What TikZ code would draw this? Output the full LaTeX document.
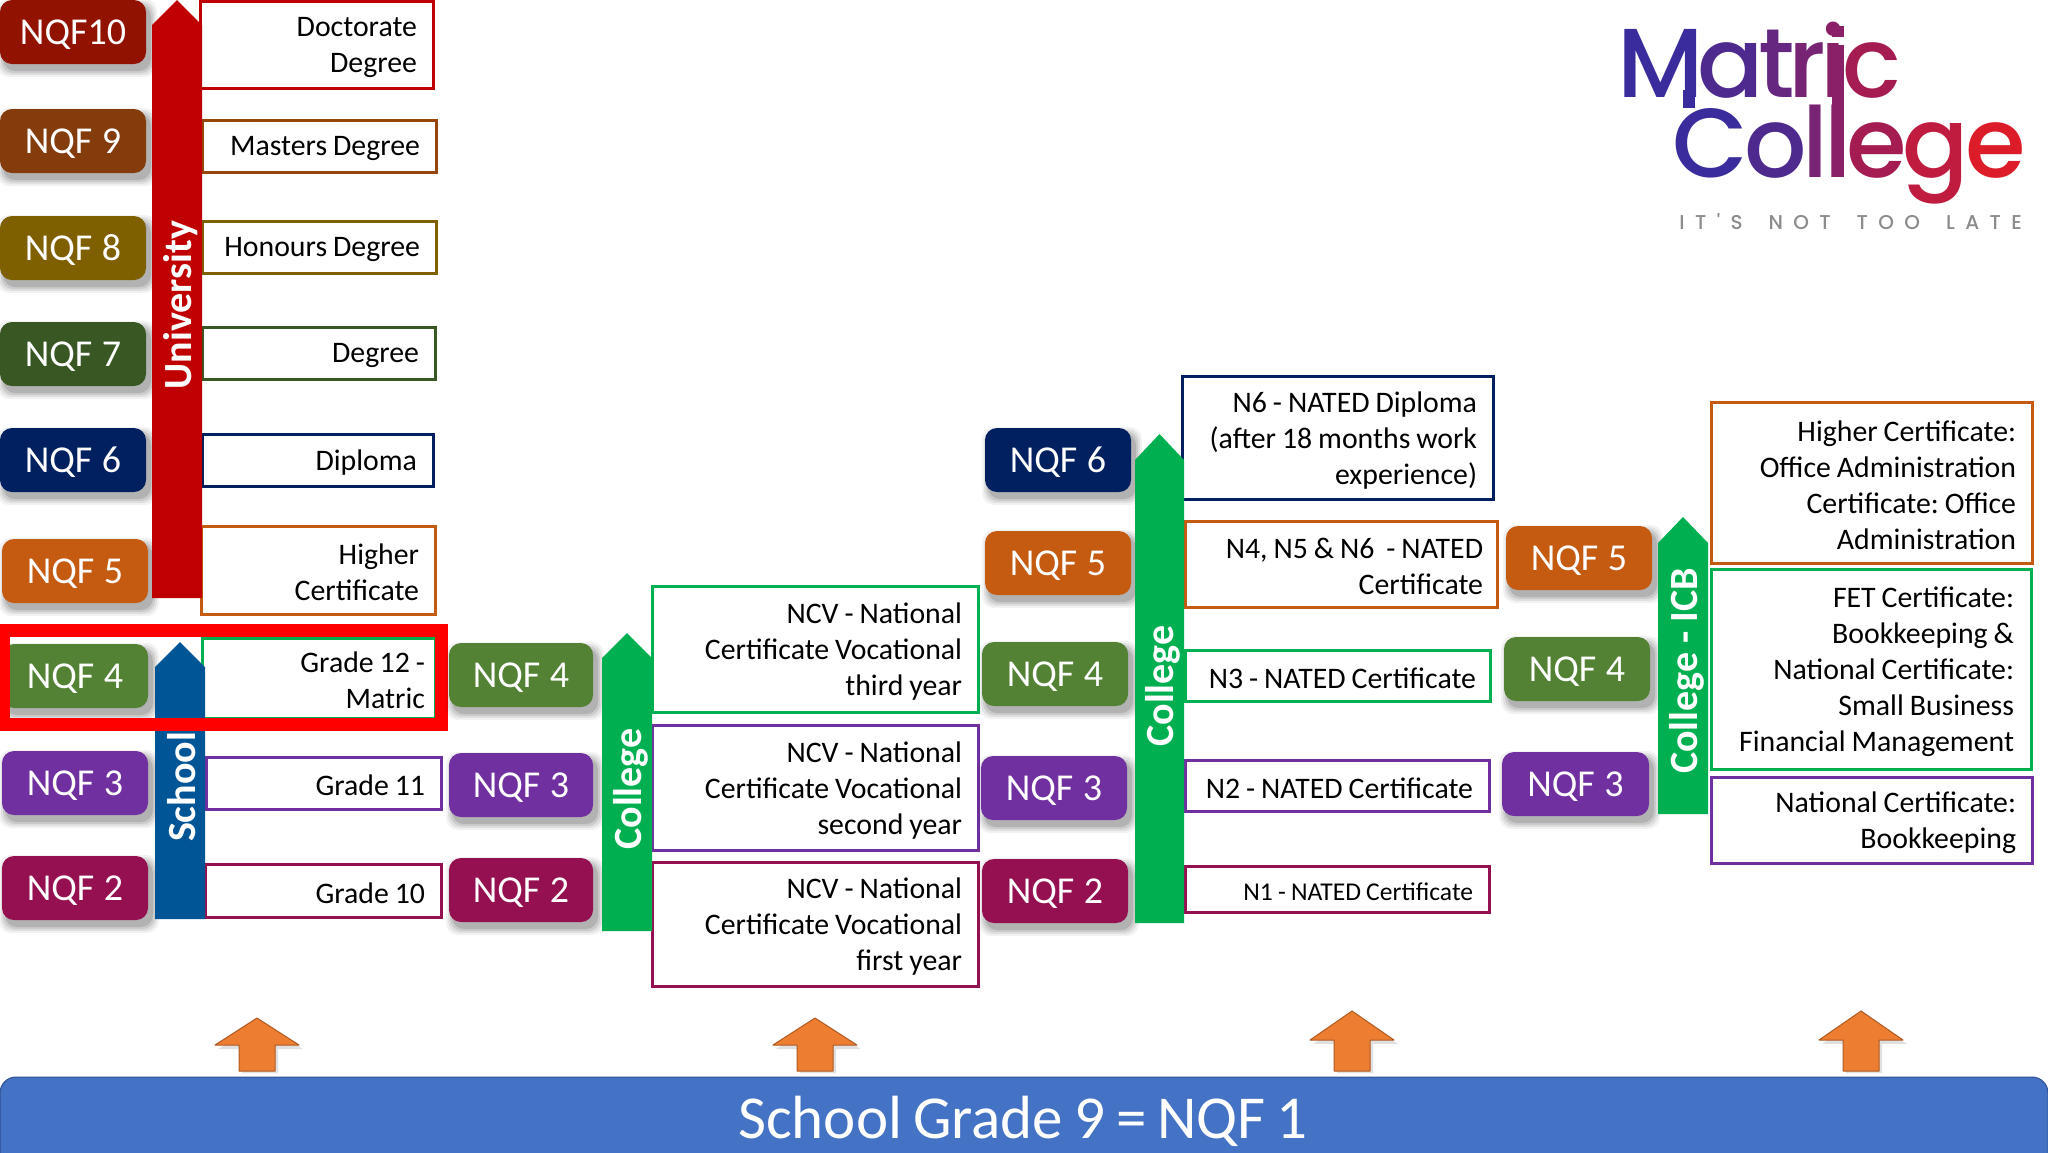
\documentclass[tikz,border=0pt]{standalone}
\usepackage{fontspec}
\setmainfont{Carlito}
\newfontfamily\logofont{Poppins Medium}
\newfontfamily\tagfont{Poppins Medium}[LetterSpace=52,WordSpace=1.66]
\newcommand{\tightwords}{\frenchspacing\spaceskip=.2em\relax}
\newcommand{\widewords}{\spaceskip=.25em\relax}
\newcommand{\barwords}{\spaceskip=.18em\relax}
\definecolor{cTen}{HTML}{921200}
\definecolor{cNine}{HTML}{843C0C}
\definecolor{cEight}{HTML}{7F6000}
\definecolor{cSeven}{HTML}{385723}
\definecolor{cSix}{HTML}{002060}
\definecolor{cFive}{HTML}{C55A11}
\definecolor{cFour}{HTML}{548235}
\definecolor{cThree}{HTML}{7030A0}
\definecolor{cTwo}{HTML}{951050}
\definecolor{uniRed}{HTML}{C00000}
\definecolor{schoolBlue}{HTML}{005597}
\definecolor{collGreen}{HTML}{00B050}
\definecolor{barBlue}{HTML}{4472C4}
\definecolor{barEdge}{HTML}{2F528F}
\definecolor{upOrange}{HTML}{ED7D31}
\definecolor{upEdge}{HTML}{AE5A21}
\definecolor{lgA}{HTML}{3A2C9C}
\definecolor{lgB}{HTML}{4F2A8E}
\definecolor{lgC}{HTML}{662780}
\definecolor{lgD}{HTML}{782474}
\definecolor{lgE}{HTML}{8A2068}
\definecolor{lgF}{HTML}{A41C52}
\definecolor{lgG}{HTML}{C01C40}
\definecolor{lgH}{HTML}{DC1C28}
\tikzset{
  nqfbox/.style={rounded corners=6pt,inner sep=0pt},
  nqftext/.style={inner sep=0pt,text=white,yshift=-1.2pt,font=\fontsize{19}{22}\selectfont},
  infobox/.style={fill=white,line width=1.5pt,inner sep=0pt},
  infotext/.style={inner sep=0pt,align=right,yshift=-1.3pt,font=\fontsize{14.9}{18}\selectfont},
  vlabel/.style={rotate=90,text=white,inner sep=0pt,
    font=\bfseries\fontsize{20}{22}\selectfont},
  upshape/.style={fill=upOrange,draw=upEdge,line width=0.5pt,line join=round},
}
% #1 name, #2 x1, #3 x2, #4 cy, #5 colour, #6 text
\newcommand{\nqf}[6]{%
  \foreach \s/\o in {7/0.05,5/0.07,3/0.09,1/0.12}{%
    \fill[black,opacity=\o,rounded corners=6pt]
      ({#2+4-\s},{#4-32+6-\s}) rectangle ({#3+4+\s},{#4+32+6+\s});}
  \node[nqfbox,fill=#5,minimum width={(#3-#2)*0.5pt},minimum height=32pt]
    (#1) at ({(#2+#3)/2},#4) {};
  \node[nqftext] (#1-t) at (#1.center) {\widewords #6};}
% #1 name, #2 x1, #3 y1, #4 x2, #5 y2, #6 colour, #7 right gap, #8 text
\newcommand{\info}[8]{%
  \node[infobox,draw=#6,minimum width={(#4-#2)*0.5pt},minimum height={(#5-#3)*0.5pt}]
    (#1) at ({(#2+#4)/2},{(#3+#5)/2}) {};
  \node[infotext,text width={(#4-#2-2*#7)*0.5pt}] (#1-t) at (#1.center) {\tightwords #8};}
% #1 x1, #2 x2, #3 tip, #4 shoulder, #5 bottom, #6 colour
\newcommand{\uparr}[6]{%
  \fill[#6] (#1,#5) -- (#1,#4) -- ({(#1+#2)/2},#3) -- (#2,#4) -- (#2,#5) -- cycle;}
% #1 centre x, #2 tip y, #3 shoulder y
\newcommand{\orangeup}[3]{%
  \fill[black,opacity=0.12] ({#1-15},1073) -- ({#1+21},1073) -- ({#1+21},{#3+4}) -- ({#1+46},{#3+4}) -- ({#1+3},{#2+4}) -- ({#1-39},{#3+4}) -- ({#1-15},{#3+4}) -- cycle;
  \path[upshape] ({#1-18},1071) -- ({#1+18},1071) -- ({#1+18},#3) -- ({#1+42},#3) -- (#1,#2) -- ({#1-42},#3) -- ({#1-18},#3) -- cycle;}
\begin{document}
\begin{tikzpicture}[x=0.5pt,y=-0.5pt]
\useasboundingbox (0,0) rectangle (2048,1152);
\fill[white] (0,0) rectangle (2048,1152);

% column 1
\info{doc}{200}{1}{433}{88}{red!75!black}{16}{Doctorate\\Degree}
\info{mas}{202}{120}{436}{172}{cNine!85!orange}{16}{Masters Degree}
\info{hon}{202}{221}{436}{273}{cEight}{16}{Honours Degree}
\info{deg}{202}{327}{435}{379}{cSeven}{16}{Degree}
\info{dip}{202}{434}{433}{486}{cSix}{16}{Diploma}
\info{hig}{201}{526}{435}{614}{cFive}{16}{Higher\\Certificate}
\info{g12}{202}{638}{435}{718}{collGreen}{10}{Grade 12 -\\Matric}
\info{g11}{206}{757}{441}{809}{cThree}{16}{Grade 11}
\info{g10}{205}{864}{441}{917}{cTwo}{16}{Grade 10}
\nqf{a10}{0}{146}{32}{cTen}{NQF10}
\nqf{a9}{0}{146}{141}{cNine}{NQF 9}
\nqf{a8}{0}{146}{248}{cEight}{NQF 8}
\nqf{a7}{0}{146}{354}{cSeven}{NQF 7}
\nqf{a6}{0}{146}{460}{cSix}{NQF 6}
\nqf{a5}{2}{148}{571}{cFive}{NQF 5}
\nqf{a4}{2}{148}{676}{cFour}{NQF 4}
\nqf{a3}{2}{148}{783}{cThree}{NQF 3}
\nqf{a2}{2}{148}{888}{cTwo}{NQF 2}
\uparr{152}{202}{0}{25}{598}{uniRed}
\uparr{155}{205}{642}{667}{919}{schoolBlue}
\draw[red,line width=6.5pt] (3.5,630.5) rectangle (441.5,724);
\node[vlabel] (uni) at (181,305) {University};
\node[vlabel] (sch) at (182,787) {School};

% column 2
\info{ncv3}{652}{586}{978}{712}{collGreen}{16}{NCV - National\\Certificate Vocational\\third year}
\info{ncv2}{652}{725}{978}{850}{cThree}{16}{NCV - National\\Certificate Vocational\\second year}
\info{ncv1}{652}{862}{978}{986}{cTwo}{16}{NCV - National\\Certificate Vocational\\first year}
\nqf{b4}{449}{593}{675}{cFour}{NQF 4}
\nqf{b3}{449}{593}{785}{cThree}{NQF 3}
\nqf{b2}{449}{593}{890}{cTwo}{NQF 2}
\uparr{602}{652}{633}{658}{931}{collGreen}
\node[vlabel] (col1) at (631,789) {College};

% column 3
\info{n6}{1182}{376}{1493}{499}{cSix}{16}{N6 - NATED Diploma\\(after 18 months work\\experience)}
\info{n45}{1185}{521}{1497}{607}{cFive}{14}{N4, N5 \& N6\ \ - NATED\\Certificate}
\info{n3}{1185}{650}{1490}{701}{collGreen}{14}{N3 - NATED Certificate}
\info{n2}{1185}{760}{1489}{811}{cThree}{16}{N2 - NATED Certificate}
\node[infobox,draw=cTwo,minimum width=152pt,minimum height=23pt] (n1) at (1337,889) {};
\node[infotext,font=\fontsize{12.8}{16}\selectfont,text width=136pt] (n1-t) at (n1.center) {\tightwords N1 - NATED Certificate};
\nqf{c6}{985}{1131}{460}{cSix}{NQF 6}
\nqf{c5}{985}{1131}{563}{cFive}{NQF 5}
\nqf{c4}{982}{1128}{674}{cFour}{NQF 4}
\nqf{c3}{981}{1127}{788}{cThree}{NQF 3}
\nqf{c2}{982}{1128}{891}{cTwo}{NQF 2}
\uparr{1135}{1184}{434}{460}{923}{collGreen}
\node[vlabel] (col2) at (1163,686) {College};

% column 4
\info{hc}{1711}{402}{2032}{563}{cFive}{16}{Higher Certificate:\\Office Administration\\Certificate: Office\\Administration}
\info{fet}{1711}{569}{2031}{769}{collGreen}{17}{FET Certificate:\\Bookkeeping \&\\National Certificate:\\Small Business\\Financial Management}
\info{nat}{1711}{777}{2032}{863}{cThree}{16}{National Certificate:\\Bookkeeping}
\nqf{d5}{1506}{1652}{558}{cFive}{NQF 5}
\nqf{d4}{1504}{1650}{669}{cFour}{NQF 4}
\nqf{d3}{1502}{1649}{784}{cThree}{NQF 3}
\uparr{1658}{1708}{517}{543}{814}{collGreen}
\node[vlabel] (icb) at (1687,671) {College - ICB};

% bottom bar and up arrows
\orangeup{257}{1018}{1045}
\orangeup{815}{1018}{1045}
\orangeup{1352}{1011}{1040}
\orangeup{1861}{1011}{1040}
\draw[fill=barBlue,draw=barEdge,line width=0.5pt,rounded corners=8pt]
  (0,1165) -- (0,1077) -- (2048,1077) -- (2048,1165);
\node[inner sep=0pt,text=white,font=\fontsize{30.5}{34}\selectfont] (bar) at (1023,1121) {\barwords School Grade 9 = NQF 1};

% logo
\node[anchor=base west,inner sep=0pt,font=\logofont\fontsize{49}{49}\selectfont] (lgm) at (1617,97)
  {\textcolor{lgA}{M}\kern-3pt\textcolor{lgB}{a}\kern-3pt\textcolor{lgC}{t}\kern-3pt\textcolor{lgD}{r}\kern-3pt\textcolor{lgE}{i}\kern-2pt\textcolor{lgF}{c}};
\node[anchor=base west,inner sep=0pt,font=\logofont\fontsize{49}{49}\selectfont] (lgc) at (1672,177)
  {\textcolor{lgA}{C}\kern-2pt\textcolor{lgB}{o}\kern-2pt\textcolor{lgD}{l}\kern-2pt\textcolor{lgE}{l}\kern-2pt\textcolor{lgF}{e}\kern-2pt\textcolor{lgG}{g}\kern-2pt\textcolor{lgH}{e}};
\fill[lgA] (1683,90) rectangle (1695,108);
\fill[lgE] (1832,45) rectangle (1844,177);
\fill[lgE] (1832,26) rectangle (1844,37);
\node[anchor=base west,inner sep=0pt,text=black!45,font=\tagfont\fontsize{10}{10}\selectfont] (lgt) at (1679,229) {IT'S NOT TOO LATE};
\end{tikzpicture}
\end{document}
